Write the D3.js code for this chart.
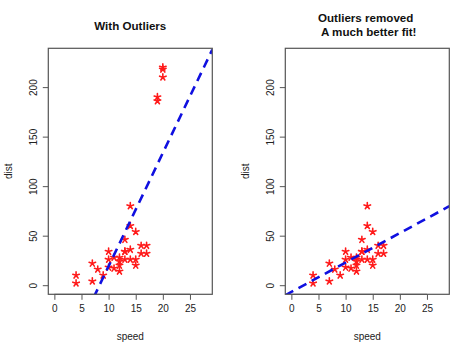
<!DOCTYPE html>
<html><head><meta charset="utf-8">
<script src="https://cdn.jsdelivr.net/npm/d3@7"></script>
<style>body{margin:0;background:#fff}svg{display:block}text{font-family:"Liberation Sans",Arial,sans-serif}</style>
</head><body>
<script>
// cars[1:30, ]
const speed = [4,4,7,7,8,9,10,10,10,11,11,12,12,12,12,13,13,13,13,14,14,14,14,15,15,15,16,16,17,17];
const dist  = [2,10,4,22,16,10,18,26,34,17,28,14,20,24,28,26,34,34,46,26,36,60,80,20,26,54,32,40,32,40];
// added outliers
const outlierSpeed = [19,19,20,20,20];
const outlierDist  = [190,186,210,220,218];
const xTicks = [0,5,10,15,20,25];
const yTicks = [0,50,100,150,200];
const titles = [["With Outliers"], ["Outliers removed ", " A much better fit!"]];

const W = 474, H = 355;
const svg = d3.select("body").append("svg").attr("width", W).attr("height", H);

function lm(xs, ys) {
  const n = xs.length, mx = d3.mean(xs), my = d3.mean(ys);
  let sxy = 0, sxx = 0;
  for (let i = 0; i < n; i++) { sxy += (xs[i]-mx)*(ys[i]-my); sxx += (xs[i]-mx)**2; }
  const b = sxy / sxx; return {a: my - b*mx, b};
}

function starPath(r) {
  let d = "";
  for (let k = 0; k < 5; k++) {
    const ang = (-90 + 72*k) * Math.PI/180;
    d += `M0,0L${(r*Math.cos(ang)).toFixed(2)},${(r*Math.sin(ang)).toFixed(2)}`;
  }
  return d;
}

function panel(idx, xs, ys, title) {
  const ox = idx * 237;
  const x0 = ox + 48.3, x1 = ox + 212.3, y0 = 294.3, y1 = 48.3;
  const x = d3.scaleLinear().domain([-1.12, 29.12]).range([x0, x1]);
  const y = d3.scaleLinear().domain([-9.2, 239.2]).range([y0, y1]);
  const g = svg.append("g");
  const cid = "clip" + idx;
  g.append("clipPath").attr("id", cid).append("rect")
    .attr("x", x0).attr("y", y1).attr("width", x1-x0).attr("height", y0-y1);

  // axes
  const xa = g.append("g").attr("transform", `translate(0,${y0})`)
    .call(d3.axisBottom(x).tickValues(xTicks).tickSize(5.5).tickPadding(5));
  const ya = g.append("g").attr("transform", `translate(${x0},0)`)
    .call(d3.axisLeft(y).tickValues(yTicks).tickSize(5.5).tickPadding(5));
  [xa, ya].forEach(a => {
    a.select(".domain").remove();
    a.selectAll(".tick line").attr("stroke", "#555");
    a.selectAll(".tick text").attr("fill", "#222").style("font-size", "10px").attr("font-family", null);
  });
  xa.append("line").attr("x1", x(xTicks[0])).attr("x2", x(xTicks[xTicks.length-1])).attr("stroke", "#555");
  ya.selectAll(".tick text").attr("transform", "rotate(-90)").attr("x", 0).attr("y", -11)
    .attr("dy", "0").attr("text-anchor", "middle");

  // points
  g.append("g").selectAll("path").data(xs.map((v,i) => [v, ys[i]])).join("path")
    .attr("transform", d => `translate(${x(d[0])},${y(d[1])})`)
    .attr("d", starPath(3.4)).attr("stroke", "#ff1a1a").attr("stroke-width", 1.6)
    .attr("fill", "none").attr("stroke-linecap", "round");

  // regression line
  const fit = lm(xs, ys);
  g.append("line").attr("clip-path", `url(#${cid})`)
    .attr("x1", x(-1.12)).attr("y1", y(fit.a + fit.b*-1.12))
    .attr("x2", x(29.12)).attr("y2", y(fit.a + fit.b*29.12))
    .attr("stroke", "#1010e0").attr("stroke-width", 2.6).attr("stroke-dasharray", "9,6");

  // box
  g.append("rect").attr("x", x0).attr("y", y1).attr("width", x1-x0).attr("height", y0-y1)
    .attr("fill", "none").attr("stroke", "#555").attr("stroke-width", 1.2);

  // labels
  const cx = (x0 + x1) / 2;
  g.append("text").attr("x", cx).attr("y", 340).attr("text-anchor", "middle")
    .style("font-size", "10px").attr("fill", "#222").text("speed");
  g.append("text").attr("transform", `translate(${ox+12},${(y0+y1)/2}) rotate(-90)`)
    .attr("text-anchor", "middle").style("font-size", "10px").attr("fill", "#222").text("dist");
  const tBase = title.length === 1 ? [29.5] : [21.5, 35.5];
  title.forEach((t, i) => {
    g.append("text").attr("x", cx).attr("y", tBase[i]).attr("text-anchor", "middle")
      .style("font-size", "11.6px").style("font-weight", "bold").style("white-space", "pre")
      .attr("fill", "#111").text(t);
  });
}

panel(0, speed.concat(outlierSpeed), dist.concat(outlierDist), titles[0]);
panel(1, speed, dist, titles[1]);
</script>
</body></html>
